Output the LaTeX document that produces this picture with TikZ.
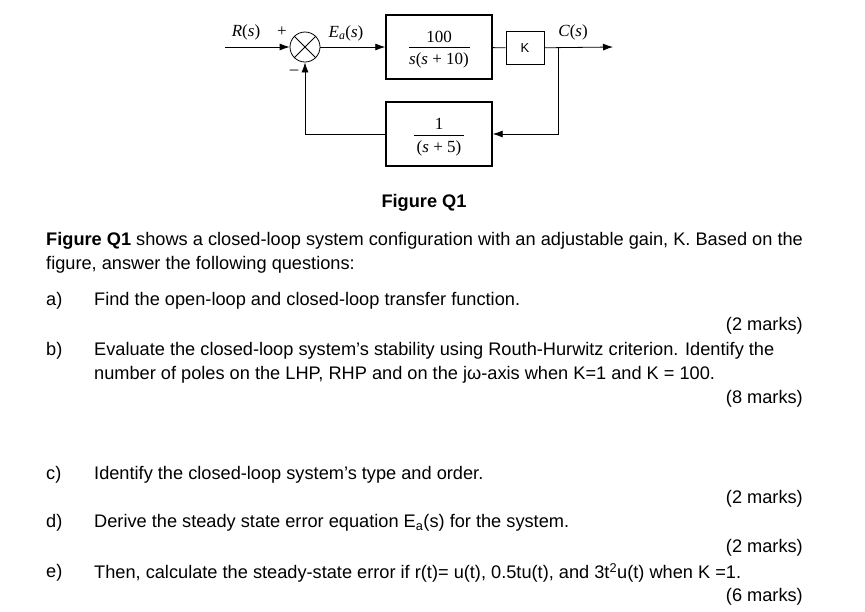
\documentclass[tikz,border=0pt]{standalone}
\usepackage{fontspec}
\setmainfont{Liberation Sans}
\newfontfamily\tms{Liberation Serif}
\usetikzlibrary{arrows.meta}
\newcommand{\iv}[1]{\textit{#1}}
\begin{document}
\begin{tikzpicture}[x=1pt,y=-1pt,
  blk/.style={draw,line width=1.4pt,inner sep=0pt},
  ln/.style={line width=0.8pt},
  arr/.style={ln,-{Latex[length=10pt,width=7pt]}},
  dl/.style={font=\tms\fontsize{17}{19}\selectfont},
  tx/.style={anchor=west,inner sep=0pt,font=\fontsize{18.2}{20}\selectfont},
  mk/.style={anchor=east,inner sep=0pt,font=\fontsize{18.2}{20}\selectfont}]
\useasboundingbox (0,0) rectangle (865,611);
\node[draw,circle,minimum size=30pt,inner sep=0pt,line width=0.8pt] (sum) at (305,47) {};
\draw[ln] (sum.45)--(sum.225) (sum.135)--(sum.315);
\node[blk,minimum width=106pt,minimum height=64pt] (g) at (439,47) {};
\node[dl] at (439,37) {100};
\draw[ln] (409,47)--(470,47);
\node[dl] at (439,60) {\iv{s}(\iv{s} + 10)};
\node[blk,line width=0.8pt,minimum width=38pt,minimum height=33pt,font=\fontsize{13}{15}\selectfont] (k) at (525,48) {K};
\node[blk,minimum width=106pt,minimum height=64pt] (h) at (439,134) {};
\node[dl] at (439,124) {1};
\draw[ln] (414,135)--(464,135);
\node[dl] at (439,148) {(\iv{s} + 5)};
\coordinate (in) at (225,47);
\coordinate (br) at (558,47);
\coordinate (out) at (613,47);
\draw[arr] (in)--(sum);
\draw[arr] (sum)--(g);
\draw[ln] (g)--(k);
\draw[arr] (k)--(out);
\draw[arr] (br)|-(h);
\draw[arr] (h.west)-|(sum.south);
\node[dl] at (246,32) {\iv{R}(\iv{s})};
\node[dl] at (282,32) {+};
\node[dl] at (294,72) {–};
\node[dl] at (346,33) {\iv{E}\textsubscript{\iv{a}}(\iv{s})};
\node[dl] at (573,32) {\iv{C}(\iv{s})};
\node[font=\bfseries\fontsize{18.2}{20}\selectfont] at (424,203) {Figure Q1};
\node[tx] at (46,241) {\textbf{Figure Q1} shows a closed-loop system configuration with an adjustable gain, K. Based on the};
\node[tx] at (46,265) {figure, answer the following questions:};
\node[tx] at (46,301) {a)};
\node[tx] at (94,301) {Find the open-loop and closed-loop transfer function.};
\node[mk] at (803,326) {(2 marks)};
\node[tx] at (46,351) {b)};
\node[tx] at (94,351) {Evaluate the closed-loop system’s stability using Routh-Hurwitz criterion. Identify the};
\node[tx] at (94,375) {number of poles on the LHP, RHP and on the jω-axis when K=1 and K = 100.};
\node[mk] at (803,399) {(8 marks)};
\node[tx] at (46,475) {c)};
\node[tx] at (94,475) {Identify the closed-loop system’s type and order.};
\node[mk] at (803,499) {(2 marks)};
\node[tx] at (46,523) {d)};
\node[tx] at (94,523) {Derive the steady state error equation E\textsubscript{a}(s) for the system.};
\node[mk] at (803,548) {(2 marks)};
\node[tx] at (46,573) {e)};
\node[tx] at (94,573) {Then, calculate the steady-state error if r(t)= u(t), 0.5tu(t), and 3t\textsuperscript{2}u(t) when K =1.};
\node[mk] at (803,597) {(6 marks)};
\end{tikzpicture}
\end{document}
